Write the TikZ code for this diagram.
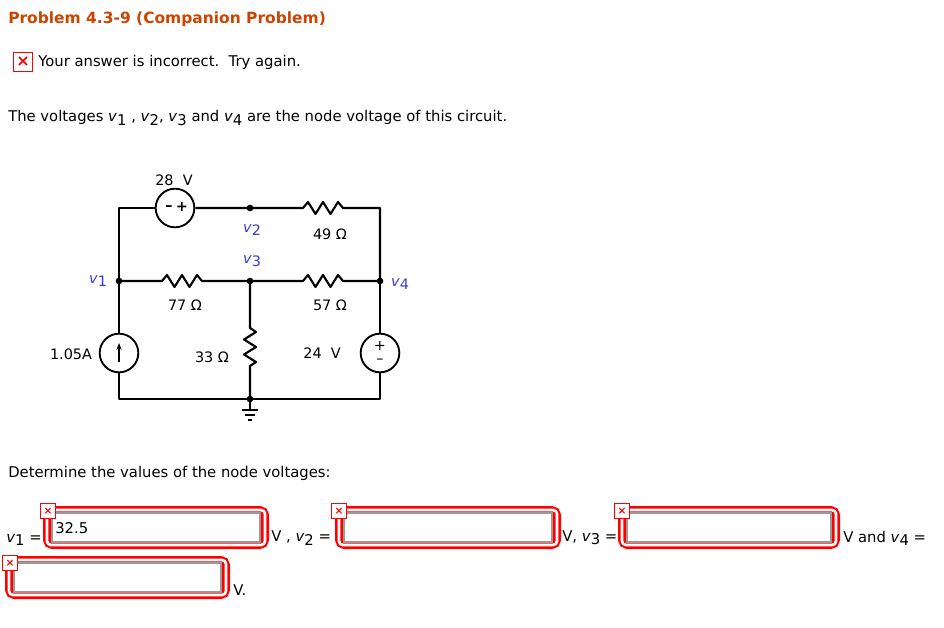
\documentclass[tikz,border=0pt]{standalone}
\usepackage{fontspec}
\setmainfont{DejaVu Sans}
\usetikzlibrary{arrows.meta}
\newcommand{\nodev}[1]{\textit{v}\raisebox{-0.4ex}{#1}}
\begin{document}
\begin{tikzpicture}[x=0.75pt,y=-0.75pt,
  txt/.style={anchor=west,inner sep=0pt,font=\fontsize{11.1}{13}\selectfont},
  lbl/.style={inner sep=0pt,font=\fontsize{10.8}{12}\selectfont},
  blue/.style={lbl,text={rgb,255:red,60;green,60;blue,220}},
  wire/.style={line width=1.6pt,line join=round},
  dot/.style={circle,fill=black,inner sep=0pt,minimum size=5pt},
  xicon/.style={draw=red,fill=white,line width=0.8pt,minimum size=11pt,inner sep=0pt,text=red,font=\fontsize{8}{8}\selectfont\bfseries}]
\useasboundingbox (0,0) rectangle (944,627);
\fill[white] (0,0) rectangle (944,627);
% texts
\node[txt,font=\fontsize{11.6}{13}\selectfont\bfseries,text={rgb,255:red,204;green,68;blue,0}] (title) at (8,19) {Problem 4.3-9 (Companion Problem)};
\node[xicon,minimum size=14pt] (x0) at (23,62) {\textbf{\large ×}};
\node[txt] (msg) at (38,62) {Your answer is incorrect.\ \ Try again.};
\node[txt] (intro) at (8,118) {The voltages \nodev{1} , \nodev{2}, \nodev{3} and \nodev{4} are the node voltage of this circuit.};
\node[txt] (det) at (8,473) {Determine the values of the node voltages:};
% circuit
\coordinate (TL) at (119,208); \coordinate (TR) at (380,208);
\coordinate (ML) at (119,281); \coordinate (MM) at (250,281); \coordinate (MR) at (380,281);
\coordinate (BL) at (119,399); \coordinate (BM) at (250,399); \coordinate (BR) at (380,399);
\coordinate (TM) at (250,208);
\node[circle,draw,line width=1.4pt,minimum size=29pt,inner sep=0pt] (vs28) at (175,208) {};
\node[circle,draw,line width=1.4pt,minimum size=29pt,inner sep=0pt] (cs) at (119,353) {};
\node[circle,draw,line width=1.4pt,minimum size=29pt,inner sep=0pt] (vs24) at (380,353) {};
\draw[wire] (ML) -- (TL) -- (vs28.west);
\draw[wire] (vs28.east) -- (TM) -- (303,208) -- ++(5,-6) -- ++(7.5,12) -- ++(7.5,-12) -- ++(7.5,12) -- ++(7.5,-12) -- ++(5,6) -- (TR) -- (MR);
\draw[wire] (ML) -- (162,281) -- ++(5,-6) -- ++(7.5,12) -- ++(7.5,-12) -- ++(7.5,12) -- ++(7.5,-12) -- ++(5,6) -- (MM) -- (303,281) -- ++(5,-6) -- ++(7.5,12) -- ++(7.5,-12) -- ++(7.5,12) -- ++(7.5,-12) -- ++(5,6) -- (MR);
\draw[wire] (MM) -- (250,328) -- ++(6,4) -- ++(-12,7.5) -- ++(12,7.5) -- ++(-12,7.5) -- ++(12,7.5) -- ++(-6,4) -- (BM);
\draw[wire] (ML) -- (cs.north); \draw[wire] (cs.south) -- (BL) -- (BR) -- (vs24.south);
\draw[wire] (MR) -- (vs24.north);
\draw[line width=1.4pt,-{Stealth[length=5pt]}] (119,362) -- (119,343);
\node[lbl] (p28) at (169,208) {\textbf{–}}; \node[lbl] (m28) at (182,207) {\textbf{+}};
\node[lbl] (p24) at (380,346) {+}; \node[lbl] (m24) at (380,361) {–};
\draw[wire] (BM) -- (250,410);
\draw[line width=1.2pt] (242,410) -- (258,410) (245,415) -- (255,415) (248,420) -- (252,420);
\foreach \c in {TM,ML,MM,MR,BM} \node[dot] at (\c) {};
\node[lbl] (l28) at (174,180) {28\ \ V};
\node[lbl] (l49) at (330,234) {49 Ω};
\node[lbl] (l77) at (185,305) {77 Ω};
\node[lbl] (l57) at (330,305) {57 Ω};
\node[lbl] (l33) at (212,357) {33 Ω};
\node[lbl] (l24) at (322,353) {24\ \ V};
\node[lbl] (l105) at (71,354) {1.05A};
\node[blue] (v1) at (98,281) {\nodev{1}};
\node[blue] (v2) at (252,230) {\nodev{2}};
\node[blue] (v3) at (252,261) {\nodev{3}};
\node[blue] (v4) at (400,284) {\nodev{4}};
% input boxes
\tikzset{inbox/.pic={
  \draw[red,line width=6pt,rounded corners=4pt] (0,0) rectangle (#1,-35);
  \draw[white,line width=2pt,rounded corners=3pt] (0,0) rectangle (#1,-35);
  \draw[gray!80,line width=1pt,fill=white] (5,-3) rectangle (#1-5,-32);}}
\pic at (47,545) {inbox=218};
\pic at (339,545) {inbox=218};
\pic at (622,545) {inbox=214};
\pic at (9,595) {inbox=217};
\node[xicon] (x1) at (48,511) {×};
\node[xicon] (x2) at (339,511) {×};
\node[xicon] (x3) at (622,511) {×};
\node[xicon] (x4) at (10,563) {×};
\node[txt] (val) at (55,528) {32.5};
\node[txt] (t1) at (6,540) {\nodev{1} =};
\node[txt] (t2) at (271,538) {V , \nodev{2} =};
\node[txt] (t3) at (562,538) {V, \nodev{3} =};
\node[txt] (t4) at (843,538) {V and \nodev{4} =};
\node[txt] (t5) at (233,590) {V.};
\end{tikzpicture}
\end{document}
